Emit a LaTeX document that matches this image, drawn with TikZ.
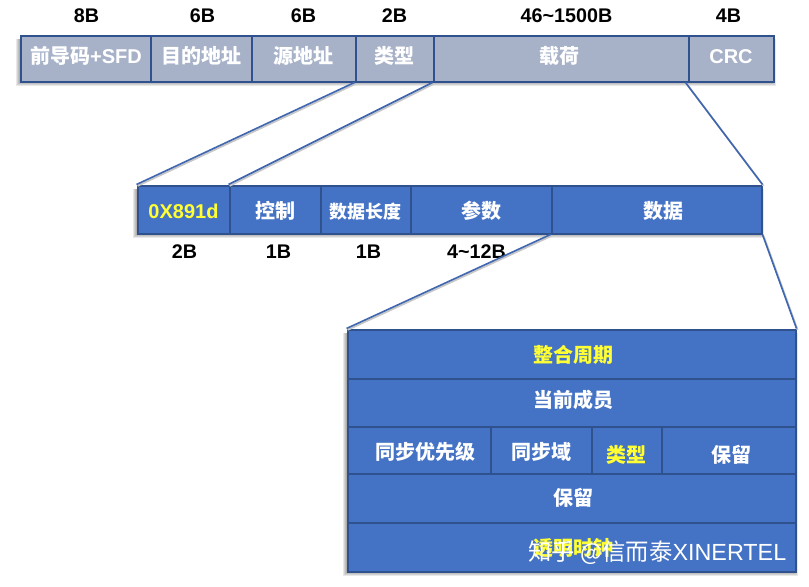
\documentclass[tikz,border=0pt]{standalone}
\usepackage{fontspec}
\usepackage{xcolor}
\setmainfont{Liberation Sans}
\newfontfamily\cjk{Noto Sans CJK SC}
\definecolor{FrameBlue}{HTML}{2F528F}
\definecolor{LineBlue}{HTML}{3F66B0}
\definecolor{FieldGrey}{HTML}{A7B2C9}
\definecolor{FieldBlue}{HTML}{4472C4}
\definecolor{FieldYellow}{HTML}{FFFF33}
\tikzset{
  cell/.style={draw=FrameBlue,line width=1.5pt,anchor=north west,inner sep=0pt,
    text=white,font=\bfseries\fontsize{15}{15}\selectfont,
    text height={(11.4+#1*1.5)*1pt},text depth=0pt},
  cell/.default=0,
  size/.style={font=\bfseries\fontsize{14.8}{16}\selectfont,text=black,inner sep=0pt},
  zoomline/.style={draw=LineBlue,line width=1.2pt,
    preaction={draw=black!22,line width=1.4pt,transform canvas={shift={(.8pt,-1pt)}}}}
}
\begin{document}
\begin{tikzpicture}[x=.75pt,y=-.75pt]
  \useasboundingbox (.5,.5) rectangle (809.5,586.5);

  % soft shadows under the three blocks
  \foreach \xa/\ya/\xb/\yb in {21/35/773/81,137/185/761/233,347/329/795/571} {
    \foreach \d in {1,2,3,4} {
      \fill[black,opacity=.09] (\xa-\d,\ya+4) rectangle (\xb+\d-1,\yb+\d+1);
    }
  }

  % outer frame
  \foreach \x/\w/\off/\txt/\name in {21/129/-3/{\cjk 前导码}+SFD/pre,150/101/-3/{\cjk 目的地址}/dst,
    251/104/-3/{\cjk 源地址}/src,355/78/-3/{\cjk 类型}/typ,433/255/-3/{\cjk 载荷}\hspace*{2pt}/load,688/85/-3/CRC/crc} {
    \node[cell=\off,fill=FieldGrey,minimum width=\w*.75pt,minimum height=34.5pt] (\name) at (\x,35) {\txt};
  }
  \foreach \x/\txt/\name in {87/8B/a,203/6B/b,304/6B/c,395/2B/d,567/46\textasciitilde1500B/e,729/4B/f} {
    \node[size] (size\name) at (\x,16.5) {\txt};
  }

  % sync header
  \foreach \x/\w/\off/\txt/\name in {137/92/1/\textcolor{FieldYellow}{0X891d}/magic,229/91/1/{\cjk 控制}/ctrl,
    320/90/1/{\fontsize{13.5}{14}\selectfont\cjk 数据长度}/len,410/141/1/{\cjk 参数}/para,551/210/1/\hspace*{10pt}{\cjk 数据}/data} {
    \node[cell=\off,fill=FieldBlue,minimum width=\w*.75pt,minimum height=36pt] (\name) at (\x,185) {\txt};
  }
  \foreach \x/\txt/\name in {185/2B/a,279/1B/b,369/1B/c,477/4\textasciitilde12B/d} {
    \node[size] (low\name) at (\x,252) {\txt};
  }

  % sync payload
  \foreach \y/\h/\off/\txt/\name in {329/49/1/\textcolor{FieldYellow}{\cjk 整合周期}/ic,378/48/-3/{\cjk 当前成员}/member,
    473/49/0/{\cjk 保留}/resa,522/49/1/\textcolor{FieldYellow}{\cjk 透明时钟}/clock} {
    \node[cell=\off,fill=FieldBlue,minimum width=336pt,minimum height=\h*.75pt] (\name) at (347,\y) {\hspace*{3pt}\txt};
  }
  \foreach \x/\w/\off/\txt/\name in {347/143/2/\hspace*{9pt}{\cjk 同步优先级}/prio,490/101/2/{\cjk 同步域}/dom,
    591/70/5/\textcolor{FieldYellow}{\cjk 类型}/kind,661/134/5/\hspace*{5pt}{\cjk 保留}/resb} {
    \node[cell=\off,fill=FieldBlue,minimum width=\w*.75pt,minimum height=35.25pt] (\name) at (\x,426) {\txt};
  }

  \draw[zoomline] (typ.south west) -- (magic.north west);
  \draw[zoomline] (load.south west) -- (ctrl.north west);
  \draw[zoomline] ([xshift=-3pt]load.south east) -- (data.north east);
  \draw[zoomline] (data.south west) -- (ic.north west);
  \draw[zoomline] (data.south east) -- (ic.north east);

  \node[text=white,font=\fontsize{17.5}{18}\selectfont,inner sep=0pt,anchor=east] (mark) at (787,553)
    {{\cjk 知乎 @信而泰}XINERTEL};
\end{tikzpicture}
\end{document}
